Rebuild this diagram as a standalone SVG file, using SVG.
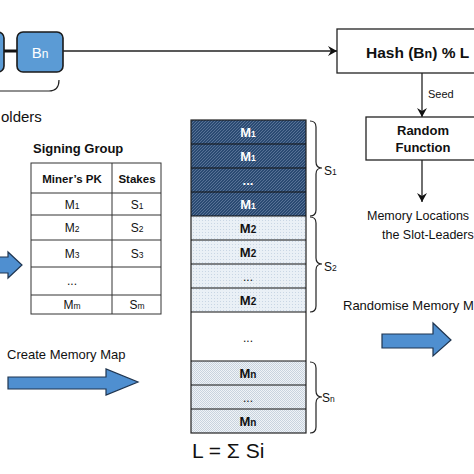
<svg xmlns="http://www.w3.org/2000/svg" width="474" height="474" viewBox="0 0 474 474">
<defs>
<pattern id="pDark" width="3" height="3" patternUnits="userSpaceOnUse">
<rect width="3" height="3" fill="#2a4a72"/>
<path d="M0,3 L3,0" stroke="#6c84a6" stroke-width="0.7"/>
</pattern>
<pattern id="pLight" width="3" height="3" patternUnits="userSpaceOnUse">
<rect width="3" height="3" fill="#eaf0f6"/>
<rect x="1" y="1" width="1" height="1" fill="#c9d6e4"/>
</pattern>
<pattern id="pN" width="2" height="2" patternUnits="userSpaceOnUse">
<rect width="2" height="2" fill="#f0f3f7"/>
<rect x="0" y="0" width="1" height="1" fill="#c8d3de"/>
<rect x="1" y="1" width="1" height="1" fill="#c8d3de"/>
</pattern>
<marker id="ah" markerWidth="10" markerHeight="10" refX="9" refY="5" orient="auto" markerUnits="userSpaceOnUse">
<path d="M0,0 L9,5 L0,10 L3,5 Z" fill="#111"/>
</marker>
</defs>
<style>
text{font-family:"Liberation Sans",Arial,sans-serif;fill:#111}
.b{font-weight:bold}
.wb{font-weight:bold;fill:#fff;font-size:13px}
.db{font-weight:bold;fill:#111;font-size:13px}
.t{font-size:12px}
.sub{font-size:8.5px}
.blk{fill:#5b9bd5;stroke:#1a1a1a;stroke-width:1.6}
.bigarr{fill:#4f8fd0;stroke:#1f3550;stroke-width:1.2}
.box{fill:#fff;stroke:#222;stroke-width:1.3}
.ln{fill:none;stroke:#222;stroke-width:1.3}
.brace{fill:none;stroke:#222;stroke-width:1.2}
.grid{stroke:#333;stroke-width:1}
</style>

<g id="chain">
<line x1="3" y1="51" x2="17" y2="51" stroke="#111" stroke-width="3"/>
<rect class="blk" x="-20" y="32" width="24" height="40" rx="6"/>
<g id="block-bn">
<rect class="blk" x="17" y="32" width="46" height="40" rx="6"/>
<text x="40" y="58" text-anchor="middle" style="font-size:15px;fill:#fff">B<tspan style="font-size:12px">n</tspan></text>
</g>
<path class="brace" d="M0,91 L49,91 Q59,91 59,80"/>
<text x="1" y="122" style="font-size:15px">olders</text>
</g>

<g id="connectors">
<line class="ln" x1="63" y1="51" x2="337" y2="51" marker-end="url(#ah)"/>
<line class="ln" x1="422" y1="73" x2="422" y2="117" marker-end="url(#ah)"/>
<line class="ln" x1="422" y1="160" x2="422" y2="202" marker-end="url(#ah)"/>
</g>

<g id="hash">
<rect class="box" x="337" y="29" width="150" height="44"/>
<text class="b" x="366" y="58" style="font-size:15.5px">Hash (B<tspan style="font-size:12.5px">n</tspan>) % L</text>
</g>
<text x="428" y="98" style="font-size:11px">Seed</text>

<g id="random">
<rect class="box" x="366" y="117" width="120" height="43"/>
<text class="b" x="423" y="135" text-anchor="middle" style="font-size:13px">Random</text>
<text class="b" x="423" y="152" text-anchor="middle" style="font-size:13px">Function</text>
</g>
<text x="367" y="220" style="font-size:12.5px">Memory Locations</text>
<text x="382" y="239" style="font-size:12.5px">the Slot-Leaders</text>

<g id="signing-group">
<text class="b" x="33" y="153" style="font-size:13px">Signing Group</text>
<rect x="31" y="163" width="130" height="151" fill="#fff" stroke="#333" stroke-width="1"/>
<line class="grid" x1="112" y1="163" x2="112" y2="314"/>
<line class="grid" x1="31" y1="193" x2="161" y2="193"/>
<line class="grid" x1="31" y1="215" x2="161" y2="215"/>
<line class="grid" x1="31" y1="240" x2="161" y2="240"/>
<line class="grid" x1="31" y1="267" x2="161" y2="267"/>
<line class="grid" x1="31" y1="295" x2="161" y2="295"/>
<text class="b" x="72" y="183" text-anchor="middle" style="font-size:11.5px">Miner’s PK</text>
<text class="b" x="137" y="183" text-anchor="middle" style="font-size:11.5px">Stakes</text>
<text class="t" x="72" y="209" text-anchor="middle">M<tspan class="sub">1</tspan></text>
<text class="t" x="137" y="209" text-anchor="middle">S<tspan class="sub">1</tspan></text>
<text class="t" x="72" y="232" text-anchor="middle">M<tspan class="sub">2</tspan></text>
<text class="t" x="137" y="232" text-anchor="middle">S<tspan class="sub">2</tspan></text>
<text class="t" x="72" y="258" text-anchor="middle">M<tspan class="sub">3</tspan></text>
<text class="t" x="137" y="258" text-anchor="middle">S<tspan class="sub">3</tspan></text>
<text class="t" x="72" y="285" text-anchor="middle">...</text>
<text class="t" x="72" y="309" text-anchor="middle">M<tspan class="sub">m</tspan></text>
<text class="t" x="137" y="309" text-anchor="middle">S<tspan class="sub">m</tspan></text>
</g>

<path id="arrow-left" class="bigarr" d="M-5,257 L8,257 L8,252 L22,265 L8,278 L8,273 L-5,273 Z"/>

<g id="memory-map">
<rect x="191" y="120" width="115" height="96" fill="url(#pDark)"/>
<rect x="191" y="216" width="115" height="96" fill="url(#pLight)"/>
<rect x="191" y="312" width="115" height="49" fill="#fff"/>
<rect x="191" y="361" width="115" height="72" fill="url(#pN)"/>
<rect x="191" y="120" width="115" height="313" fill="none" stroke="#222" stroke-width="1.2"/>
<g stroke="#111" stroke-width="1">
<line x1="191" y1="144" x2="306" y2="144"/>
<line x1="191" y1="168" x2="306" y2="168"/>
<line x1="191" y1="192" x2="306" y2="192"/>
<line x1="191" y1="216" x2="306" y2="216"/>
<line x1="191" y1="240" x2="306" y2="240"/>
<line x1="191" y1="264" x2="306" y2="264"/>
<line x1="191" y1="288" x2="306" y2="288"/>
<line x1="191" y1="312" x2="306" y2="312"/>
<line x1="191" y1="361" x2="306" y2="361"/>
<line x1="191" y1="385" x2="306" y2="385"/>
<line x1="191" y1="409" x2="306" y2="409"/>
</g>
<text class="wb" x="248" y="137" text-anchor="middle">M<tspan class="sub">1</tspan></text>
<text class="wb" x="248" y="161" text-anchor="middle">M<tspan class="sub">1</tspan></text>
<text class="wb" x="248" y="185" text-anchor="middle">...</text>
<text class="wb" x="248" y="209" text-anchor="middle">M<tspan class="sub">1</tspan></text>
<text class="db" x="248" y="233" text-anchor="middle">M<tspan style="font-size:10px">2</tspan></text>
<text class="db" x="248" y="257" text-anchor="middle">M<tspan style="font-size:10px">2</tspan></text>
<text x="248" y="281" text-anchor="middle" style="font-size:12px">...</text>
<text class="db" x="248" y="305" text-anchor="middle">M<tspan style="font-size:10px">2</tspan></text>
<text x="248" y="342" text-anchor="middle" style="font-size:12px">...</text>
<text class="db" x="248" y="378" text-anchor="middle">M<tspan style="font-size:10px">n</tspan></text>
<text x="248" y="402" text-anchor="middle" style="font-size:12px">...</text>
<text class="db" x="248" y="426" text-anchor="middle">M<tspan style="font-size:10px">n</tspan></text>
</g>

<g id="braces">
<path class="brace" d="M310,121 Q316,121 316,127 L316,162 Q316,168 322,168 Q316,168 316,174 L316,210 Q316,216 310,216"/>
<path class="brace" d="M310,217 Q316,217 316,223 L316,258 Q316,264 322,264 Q316,264 316,270 L316,306 Q316,312 310,312"/>
<path class="brace" d="M310,362 Q316,362 316,368 L316,391 Q316,397 322,397 Q316,397 316,403 L316,427 Q316,433 310,433"/>
<text x="324" y="175" style="font-size:12px">S<tspan class="sub">1</tspan></text>
<text x="324" y="271" style="font-size:12px">S<tspan class="sub">2</tspan></text>
<text x="322" y="402" style="font-size:12px">S<tspan class="sub">n</tspan></text>
</g>

<text x="192" y="458" style="font-size:21px">L = Σ Si</text>

<text x="7" y="359" style="font-size:13px">Create Memory Map</text>
<path id="arrow-create" class="bigarr" d="M8,377 L106,377 L106,369 L138,382 L106,395 L106,389 L8,389 Z"/>

<text x="343" y="310" style="font-size:13px">Randomise Memory M</text>
<path id="arrow-random" class="bigarr" d="M382,334 L433,334 L433,323 L451,340 L433,356 L433,348 L382,348 Z"/>
</svg>
